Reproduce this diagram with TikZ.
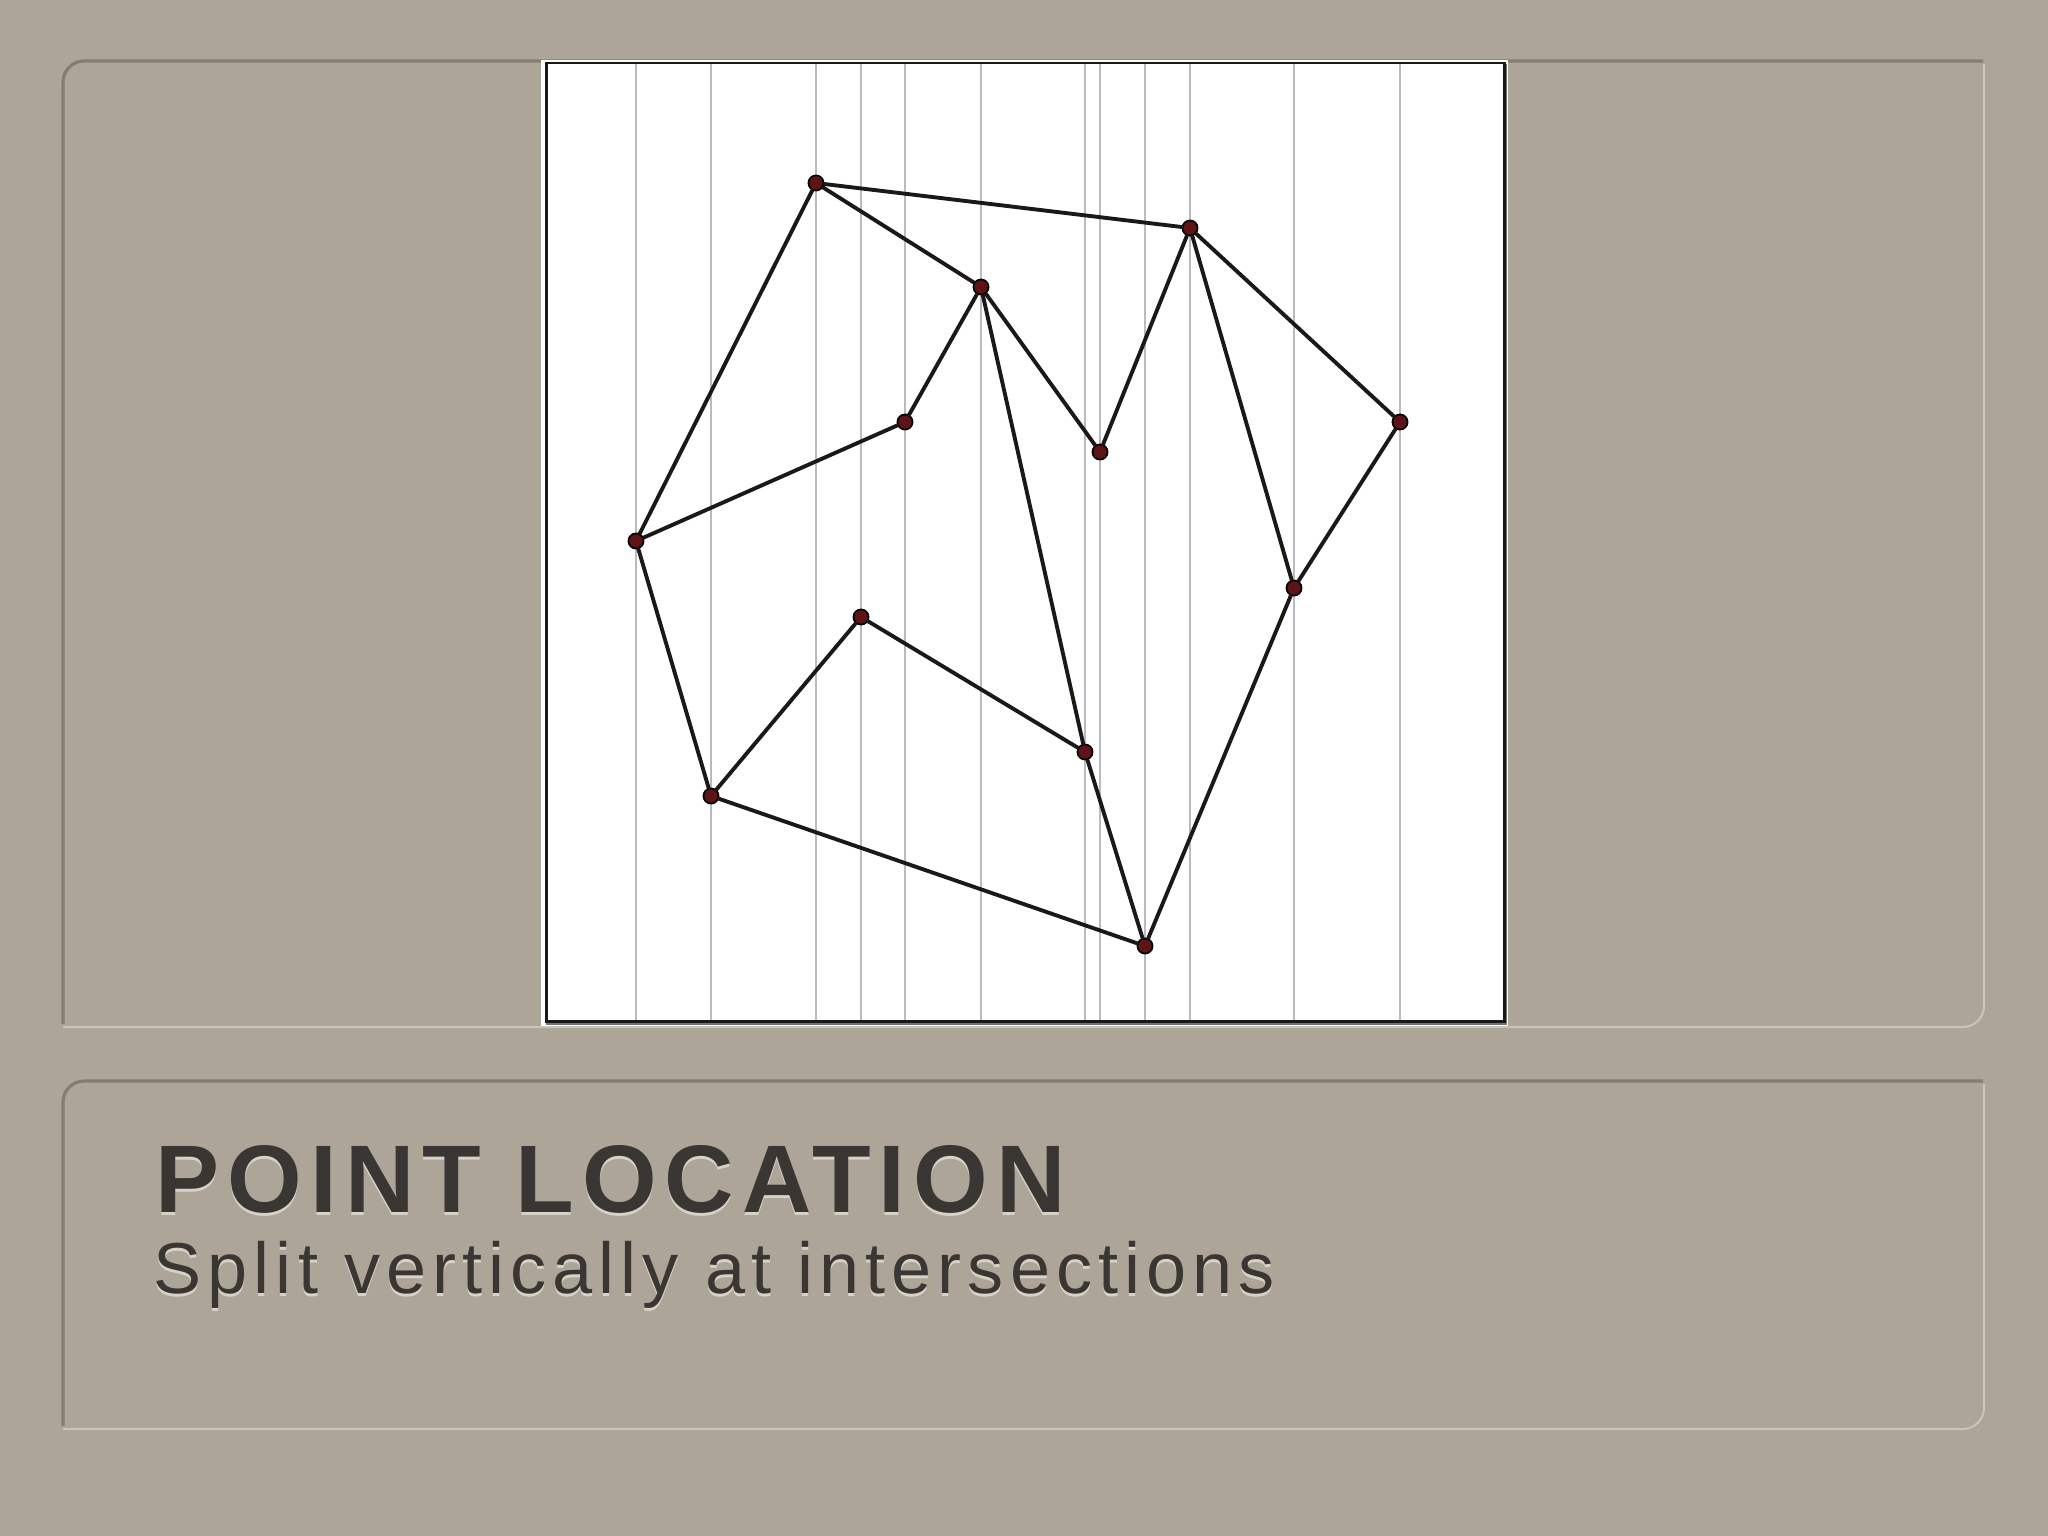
\documentclass[tikz,border=0pt]{standalone}
\usepackage{fontspec}
\setmainfont{Liberation Sans}
\newfontfamily\titlefam[LetterSpace=8.3]{Liberation Sans}
\newfontfamily\subfam[LetterSpace=8.4]{Liberation Sans}
\definecolor{bgcol}{HTML}{ADA598}
\definecolor{edgedark}{HTML}{847D70}
\definecolor{edgelight}{HTML}{CAC3B6}
\definecolor{txtcol}{HTML}{3A3633}
\definecolor{txtshadow}{HTML}{D8D2C6}
\definecolor{sweepcol}{HTML}{BABAC2}
\definecolor{vtxcol}{HTML}{5E1414}
\definecolor{segcol}{HTML}{1C1818}
\pgfdeclarelayer{bg}
\pgfsetlayers{bg,main}
\begin{document}
\begin{tikzpicture}[x=0.01cm,y=-0.01cm,
  seg/.style={line width=1.1pt, draw=segcol, line cap=round},
  sweep/.style={line width=0.7pt, draw=sweepcol},
  vtx/.style={circle, fill=vtxcol, draw=black, line width=0.5pt, inner sep=0pt, minimum size=4.3pt},
  darkrim/.style={draw=edgedark, line width=0.9pt, rounded corners=6},
  lightrim/.style={draw=edgelight, line width=0.6pt, rounded corners=6},
  titletext/.style={anchor=base west, inner sep=0pt, font=\titlefam\bfseries\fontsize{27.3}{30}\selectfont},
  subtext/.style={anchor=base west, inner sep=0pt, font=\subfam\fontsize{20.5}{24}\selectfont}]
\useasboundingbox (0,0) rectangle (2048,1536);

% vertices
\node[vtx] (A) at (816,183) {};
\node[vtx] (B) at (1190,228) {};
\node[vtx] (C) at (981,287) {};
\node[vtx] (D) at (905,422) {};
\node[vtx] (E) at (1100,452) {};
\node[vtx] (F) at (1400,422) {};
\node[vtx] (G) at (636,541) {};
\node[vtx] (H) at (1294,588) {};
\node[vtx] (I) at (861,617) {};
\node[vtx] (J) at (1085,752) {};
\node[vtx] (K) at (711,796) {};
\node[vtx] (L) at (1145,946) {};

\coordinate (btop) at (0,64);
\coordinate (bbot) at (0,1020);

\begin{pgfonlayer}{bg}
  \fill[bgcol] (0,0) rectangle (2048,1536);
  % upper panel
  \draw[darkrim] (63,1024) |- (1983,61);
  \draw[lightrim] (63,1027) -| (1984,64);
  % lower panel
  \draw[darkrim] (63,1426) |- (1983,1081);
  \draw[lightrim] (63,1429) -| (1984,1084);
  % white box
  \fill[white] (541,60) rectangle (1508,1026);
  \draw[line width=0.5pt, draw=black!55] (1506,64) -- (1506,1024) -- (546,1024);
  \draw[line width=0.85pt, draw=segcol] (546,63) rectangle (1504,1021);
  % sweep lines
  \foreach \v in {A,B,C,D,E,F,G,H,I,J,K,L}
    \draw[sweep] (\v |- btop) -- (\v |- bbot);
\end{pgfonlayer}

% segments
\draw[seg] (A) -- (B);
\draw[seg] (A) -- (C);
\draw[seg] (A) -- (G);
\draw[seg] (C) -- (D);
\draw[seg] (C) -- (J);
\draw[seg] (C) -- (E);
\draw[seg] (E) -- (B);
\draw[seg] (B) -- (F);
\draw[seg] (B) -- (H);
\draw[seg] (F) -- (H);
\draw[seg] (D) -- (G);
\draw[seg] (G) -- (K);
\draw[seg] (K) -- (I);
\draw[seg] (I) -- (J);
\draw[seg] (J) -- (L);
\draw[seg] (K) -- (L);
\draw[seg] (H) -- (L);

% texts
\node[titletext, text=txtshadow] (titleshadow) at (155,1215.5) {POINT LOCATION};
\node[titletext, text=txtcol] (title) at (155,1212.5) {POINT LOCATION};
\node[subtext, text=txtshadow] (subshadow) at (153,1296) {Split vertically at intersections};
\node[subtext, text=txtcol] (sub) at (153,1293) {Split vertically at intersections};
\end{tikzpicture}
\end{document}
